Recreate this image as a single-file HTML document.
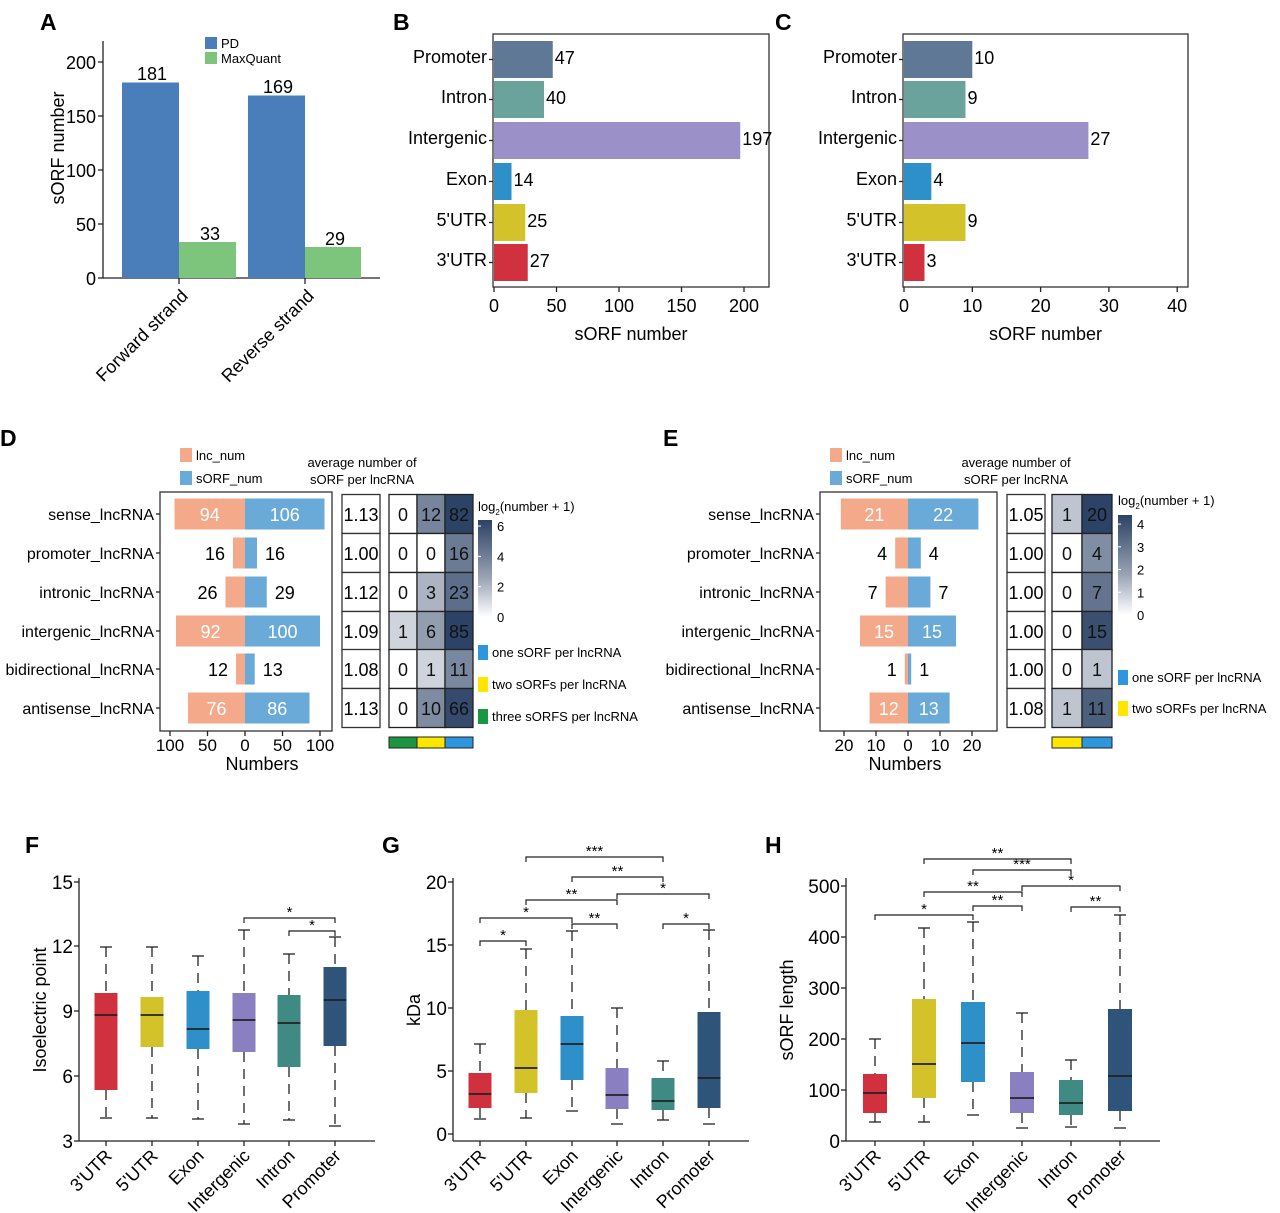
<!DOCTYPE html>
<html><head><meta charset="utf-8"><style>
body{margin:0;background:#fff}
svg{display:block;font-family:"Liberation Sans",Arial,sans-serif}
</style></head><body>
<svg id="s" width="1280" height="1213" viewBox="0 0 1280 1213" xmlns="http://www.w3.org/2000/svg"></svg>
<script>
var o='';
function t(x,y,s,sz,anc,extra){o+='<text x="'+x+'" y="'+y+'" font-size="'+(sz||17)+'" text-anchor="'+(anc||'start')+'" '+(extra||'')+'>'+s+'</text>';}
function r(x,y,w,h,f,extra){o+='<rect x="'+x+'" y="'+y+'" width="'+w+'" height="'+h+'" fill="'+f+'" '+(extra||'')+'/>';}
function l(x1,y1,x2,y2,extra){o+='<line x1="'+x1+'" y1="'+y1+'" x2="'+x2+'" y2="'+y2+'" stroke="#222" stroke-width="'+((extra&&extra.w)||1.3)+'" '+((extra&&extra.d)?'stroke-dasharray="'+extra.d+'"':'')+'/>';}
[['A',40,22],['B',393,22],['C',775,22],['D',0,438],['E',663,438],['F',25,845],['G',382,845],['H',765,845]].forEach(function(p){t(p[1],p[2]+8,p[0],23,'start','font-weight="bold"');});
// ===== A =====
l(103,41,103,278);l(103,278,380,278);
[[0,278],[50,224],[100,170],[150,116],[200,62]].forEach(function(k){l(98,k[1],103,k[1]);t(96,k[1]+7,k[0],18,'end');});
r(122,82.5,57,195.5,'#4a7ebb');r(179,242,57,36,'#7dc47c');
r(248,95.5,57,182.5,'#4a7ebb');r(305,247,56,31,'#7dc47c');
t(152,80,'181',18,'middle');t(210,240,'33',18,'middle');t(278,93,'169',18,'middle');t(335,245,'29',18,'middle');
l(179,278,179,284);l(305,278,305,284);
t(0,0,'Forward strand',18,'end','transform="translate(189,297) rotate(-45)"');
t(0,0,'Reverse strand',18,'end','transform="translate(315,297) rotate(-45)"');
t(0,0,'sORF number',18,'middle','transform="translate(64,148) rotate(-90)"');
r(205,37,12,12,'#4a7ebb');t(221,48,'PD',13);r(205,52,12,12,'#7dc47c');t(221,63,'MaxQuant',13);
// ===== B & C =====
var cats=['Promoter','Intron','Intergenic','Exon',"5'UTR","3'UTR"];
var bcol=['#5f7896','#6aa39c','#9b90c8','#2e90c9','#d4c22b','#d1303f'];
var rows=[41,81,122,163,204,244];
function hb(x0,x1,sc,vals,ticks){
 o+='<rect x="'+x0+'" y="34" width="'+(x1-x0)+'" height="253" fill="none" stroke="#333" stroke-width="1.3"/>';
 for(var i=0;i<6;i++){var w=vals[i]*sc;r(x0+1,rows[i],w,37,bcol[i]);t(x0-6,rows[i]+22,cats[i],18,'end');l(x0-4,rows[i]+18.5,x0,rows[i]+18.5);
  t(x0+1+w+2,rows[i]+23,vals[i],18,'start');}
 ticks.forEach(function(k){var x=x0+1+k*sc;l(x,287,x,292);t(x,312,k,18,'middle');});
 t((x0+x1)/2,340,'sORF number',18,'middle');
}
hb(493,769,1.25,[47,40,197,14,25,27],[0,50,100,150,200]);
hb(903,1188,6.83,[10,9,27,4,9,3],[0,10,20,30,40]);
// ===== D & E =====
var lc=['sense_lncRNA','promoter_lncRNA','intronic_lncRNA','intergenic_lncRNA','bidirectional_lncRNA','antisense_lncRNA'];
var rc=[514,553,592,631,669,708];
function heat(v,max){var f=Math.min(1,Math.log2(v+1)/max);f=Math.pow(f,0.8);var a=[255,255,255],b=[44,66,102];
 return 'rgb('+a.map(function(c,i){return Math.round(c+(b[i]-c)*f)}).join(',')+')';}
function panelDE(o0){
 var bx0=o0.bx0,bx1=o0.bx1,z=o0.z,sc=o0.sc;
 o+='<rect x="'+bx0+'" y="492" width="'+(bx1-bx0)+'" height="239" fill="none" stroke="#333" stroke-width="1.3"/>';
 for(var i=0;i<6;i++){var y=rc[i],a=o0.lnc[i],b=o0.sorf[i];
  r(z-a*sc,y-15.5,a*sc,31,'#f5a98b');r(z,y-15.5,b*sc,31,'#6aaad8');
  t(bx0-6,y+6,lc[i],16,'end');l(bx0-4,y,bx0,y);
  if(o0.inside[i]){t(z-a*sc/2,y+7,a,18,'middle','fill="#fff"');t(z+b*sc/2,y+7,b,18,'middle','fill="#fff"');}
  else{t(z-a*sc-8,y+7,a,18,'end');t(z+b*sc+8,y+7,b,18,'start');}
  o+='<rect x="'+o0.ax+'" y="'+(y-19.5)+'" width="38" height="39" fill="#fff" stroke="#333" stroke-width="1.3"/>';
  t(o0.ax+19,y+7,o0.avg[i],18,'middle');
  for(var j=0;j<o0.h[i].length;j++){var hx=o0.hx+j*o0.hw,v=o0.h[i][j];
   o+='<rect x="'+hx+'" y="'+(y-19.5)+'" width="'+o0.hw+'" height="39" fill="'+heat(v,o0.max)+'" stroke="#222" stroke-width="1.3"/>';
   t(hx+o0.hw/2,y+7,v,18,'middle','fill="#111"');}
 }
 o0.ticks.forEach(function(k){var x=z+k*sc;l(x,731,x,736);t(x,751,Math.abs(k),17,'middle');});
 t(o0.numx,770,'Numbers',18,'middle');
 r(o0.legx,448,12,14,'#f5a98b');t(o0.legx+16,460,'lnc_num',13);
 r(o0.legx,471,12,14,'#6aaad8');t(o0.legx+16,483,'sORF_num',13);
 t(o0.avgtx,467,'average number of',13,'middle');t(o0.avgtx,484,'sORF per lncRNA',13,'middle');
 for(var j=0;j<o0.bc.length;j++){o+='<rect x="'+(o0.hx+j*o0.hw)+'" y="737" width="'+o0.hw+'" height="11" fill="'+o0.bc[j]+'" stroke="#222" stroke-width="1"/>';}
 var cx=o0.cbx;
 o+='<defs><linearGradient id="g'+cx+'" x1="0" y1="1" x2="0" y2="0"><stop offset="0" stop-color="#fff"/><stop offset="0.4" stop-color="'+heat(Math.pow(2,o0.max*0.4)-1,o0.max)+'"/><stop offset="1" stop-color="'+heat(1e6,o0.max)+'"/></linearGradient></defs>';
 r(cx,o0.cbt,14,o0.cbb-o0.cbt,'url(#g'+cx+')');
 t(cx,511+o0.lgy,'log<tspan font-size="8" dy="4">2</tspan><tspan dy="-4">(number + 1)</tspan>',13);
 o0.cbticks.forEach(function(k){var y=o0.cbb-(o0.cbb-o0.cbt)*k/o0.cbmax;o+='<line x1="'+cx+'" x2="'+(cx+3)+'" y1="'+y+'" y2="'+y+'" stroke="#fff"/>';t(cx+19,y+5,k,13);});
 o0.leg.forEach(function(g,i){r(cx,g[1]-11,10,15,g[0]);t(cx+14,g[1]+1,g[2],13);});
}
panelDE({bx0:160,bx1:332,z:245,sc:0.75,lnc:[94,16,26,92,12,76],sorf:[106,16,29,100,13,86],inside:[1,0,0,1,0,1],
 avg:['1.13','1.00','1.12','1.09','1.08','1.13'],ax:342,hx:389,hw:28,h:[[0,12,82],[0,0,16],[0,3,23],[1,6,85],[0,1,11],[0,10,66]],max:6.4,
 ticks:[-100,-50,0,50,100],numx:262,legx:180,avgtx:362,bc:['#1a9641','#ffe600','#2e96dc'],cbx:478,cbt:520,cbb:617,cbmax:6.4,cbticks:[0,2,4,6],lgy:0,
 leg:[['#2e96dc',656,'one sORF per lncRNA'],['#ffe600',688,'two sORFs per lncRNA'],['#1a9641',720,'three sORFS per lncRNA']]});
panelDE({bx0:820,bx1:997,z:908,sc:3.2,lnc:[21,4,7,15,1,12],sorf:[22,4,7,15,1,13],inside:[1,0,0,1,0,1],
 avg:['1.05','1.00','1.00','1.00','1.00','1.08'],ax:1007,hx:1052,hw:30,h:[[1,20],[0,4],[0,7],[0,15],[0,1],[1,11]],max:4.4,
 ticks:[-20,-10,0,10,20],numx:905,legx:830,avgtx:1016,bc:['#ffe600','#2e96dc'],cbx:1118,cbt:515,cbb:615,cbmax:4.4,cbticks:[0,1,2,3,4],lgy:-6,
 leg:[['#2e96dc',681,'one sORF per lncRNA'],['#ffe600',712,'two sORFs per lncRNA']]});
// ===== F G H =====
var bxc=['#d1303f','#d4c22b','#2e90c9','#8a7fc0','#3f8a82','#2f5479'];
var xl=["3'UTR","5'UTR",'Exon','Intergenic','Intron','Promoter'];
function box(ax,ticks,cent,data,br,ylab,ylx,w){
 l(ax,878,ax,1141);l(ax,1141,cent[5]+40,1141);
 ticks.forEach(function(k){l(ax-5,k[1],ax,k[1]);t(ax-6,k[1]+7,k[0],19,'end');});
 t(0,0,ylab,18,'middle','transform="translate('+ylx+',1010) rotate(-90)"');
 for(var i=0;i<6;i++){var c=cent[i],d=data[i];
  l(c,d[0],c,d[1],{d:'10,7'});l(c,d[3],c,d[4],{d:'10,7'});
  l(c-6,d[0],c+6,d[0]);l(c-6,d[4],c+6,d[4]);
  r(c-w/2,d[1],w,d[3]-d[1],bxc[i]);l(c-w/2,d[2],c+w/2,d[2],{w:1.8});
  l(c,1141,c,1146);
  t(0,0,xl[i],18,'end','transform="translate('+(c+7)+',1157) rotate(-45)"');}
 br.forEach(function(b){var x1=cent[b[0]],x2=cent[b[1]],y=b[2];
  o+='<path d="M'+x1+' '+(y+5)+'V'+y+'H'+x2+'V'+(y+5)+'" fill="none" stroke="#222" stroke-width="1.2"/>';
  t((x1+x2)/2,y-1,b[3],15,'middle');});
}
box(79,[[15,882],[12,946],[9,1011],[6,1076],[3,1141]],[106,152,198,244,289,335],
 [[947,993,1015,1090,1118],[947,997,1015,1047,1118],[956,991,1029,1049,1119],[930,993,1020,1052,1124],[954,995,1023,1067,1120],[937,967,1000,1046,1126]],
 [[3,5,918,'*'],[4,5,931,'*']],'Isoelectric point',46,23);
box(453,[[20,882],[15,945],[10,1008],[5,1071],[0,1134]],[480,526,572,617,663,709],
 [[1044,1073,1094,1108,1119],[949,1010,1068,1093,1118],[931,1016,1044,1080,1111],[1008,1068,1095,1109,1124],[1061,1078,1101,1110,1120],[930,1012,1078,1108,1124]],
 [[1,4,857,'***'],[2,4,877,'**'],[1,3,900,'**'],[3,5,894,'*'],[0,2,918,'*'],[2,3,924,'**'],[4,5,924,'*'],[0,1,941,'*']],'kDa',420,23);
box(846,[[500,886],[400,937],[300,988],[200,1039],[100,1090],[0,1141]],[875,924,973,1022,1071,1120],
 [[1039,1074,1093,1113,1122],[928,999,1064,1098,1122],[922,1002,1043,1082,1115],[1013,1072,1098,1113,1128],[1060,1080,1103,1115,1127],[915,1009,1076,1111,1128]],
 [[1,4,859,'**'],[2,4,870,'***'],[1,3,892,'**'],[3,5,886,'*'],[2,3,906,'**'],[4,5,907,'**'],[0,2,915,'*']],'sORF length',793,24);
document.getElementById('s').innerHTML=o;
</script>
</body></html>
